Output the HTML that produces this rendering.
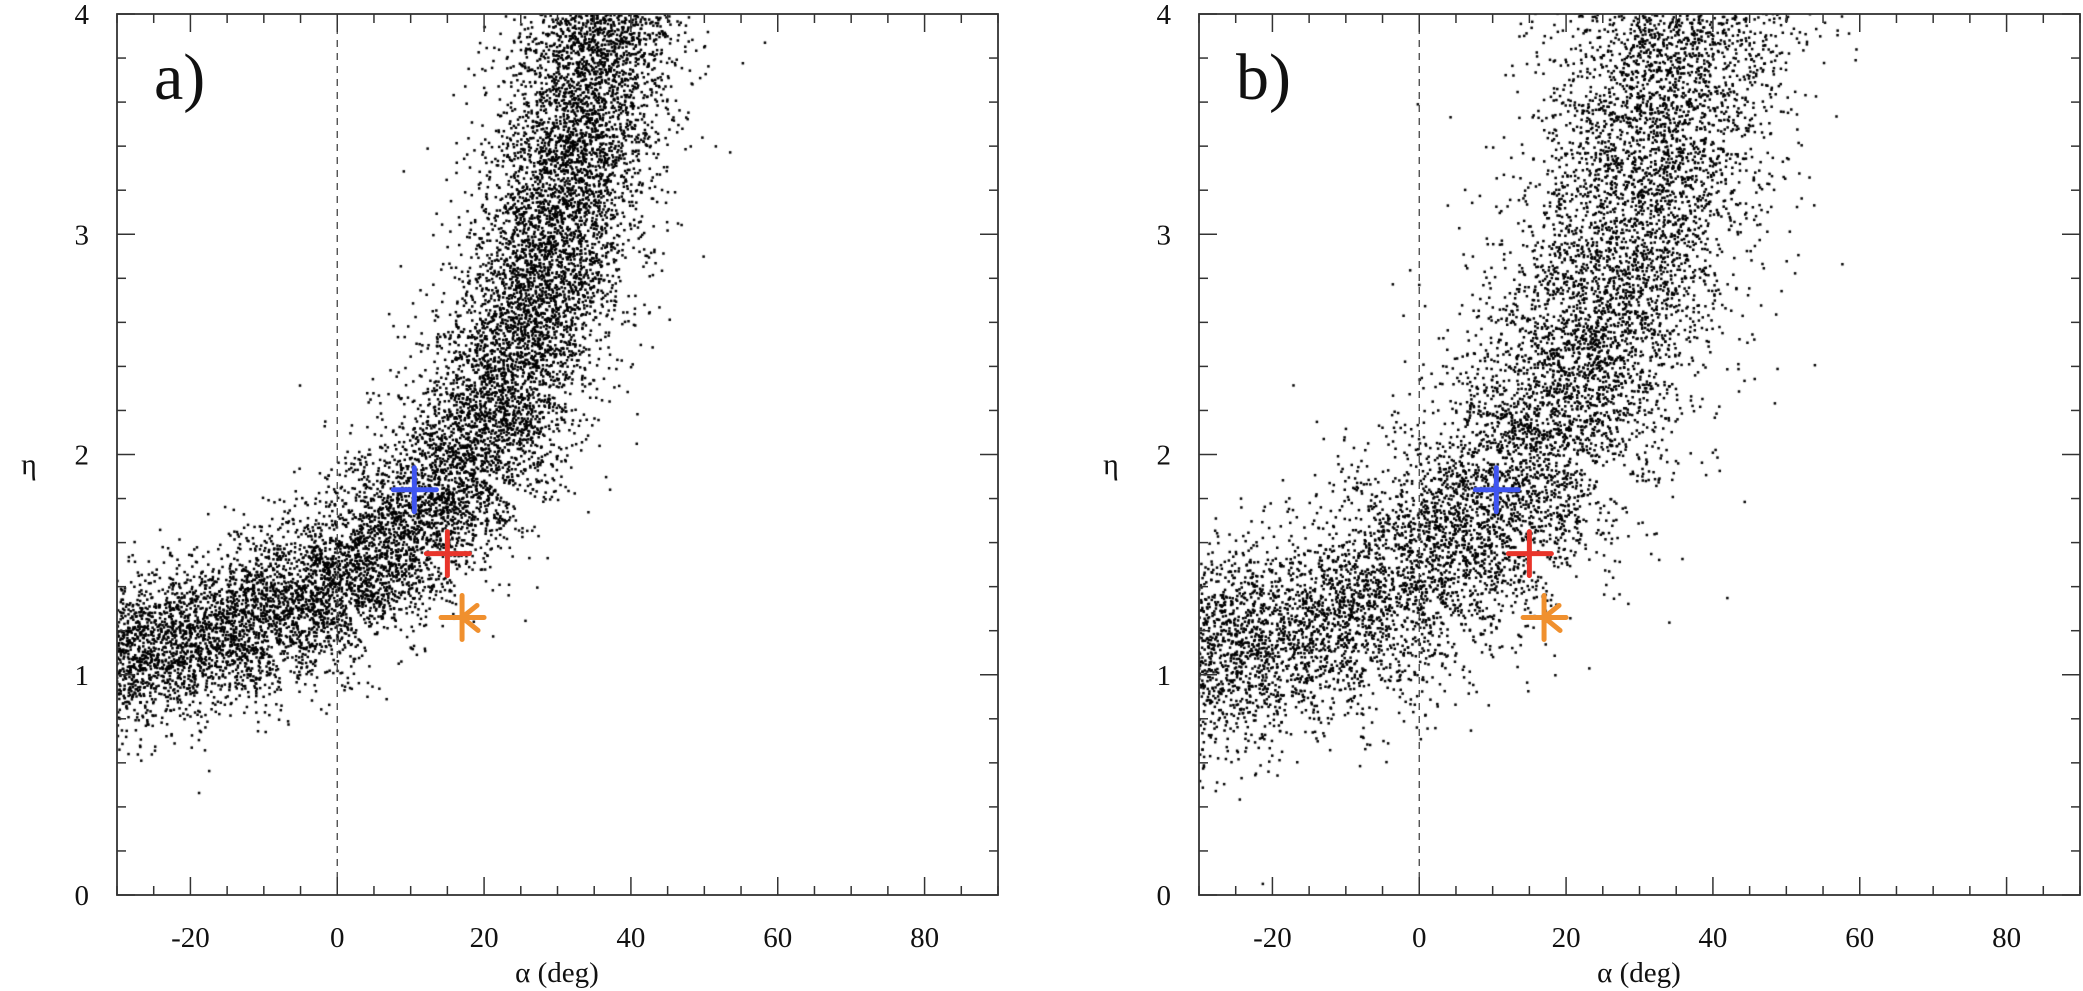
<!DOCTYPE html>
<html><head><meta charset="utf-8"><style>
html,body{margin:0;padding:0;background:#fff;}
#wrap{position:relative;width:2083px;height:991px;overflow:hidden;}
canvas,svg{position:absolute;left:0;top:0;}
text{font-family:"Liberation Serif",serif;fill:#111;}
</style></head><body><div id="wrap">
<canvas id="c" width="2083" height="991"></canvas>
<svg id="s" width="2083" height="991" xmlns="http://www.w3.org/2000/svg"></svg>
</div>
<script>
const W=881,H=881,TOP=14,LEFTS=[117,1199];
const sx=W/120, sy=H/4;
function px(L,a){return L+(a+30)*sx;} function py(e){return TOP+H-e*sy;}
let seed=12345;function rnd(){seed=(seed*1664525+1013904223)>>>0;return seed/4294967296;}
function gauss(){let u=rnd()||1e-9,v=rnd();return Math.sqrt(-2*Math.log(u))*Math.cos(6.2832*v);}
const ctx=document.getElementById('c').getContext('2d');
ctx.fillStyle='#000';
function band(L,curve,N,sig,tail){
  const P=curve.map(p=>[px(L,p[0]),py(p[1])]);
  const seg=[];let tot=0;
  for(let i=0;i<P.length-1;i++){const dx=P[i+1][0]-P[i][0],dy=P[i+1][1]-P[i][1];const l=Math.hypot(dx,dy);seg.push([P[i],dx/l,dy/l,l,tot]);tot+=l;}
  ctx.save();ctx.beginPath();ctx.rect(L,TOP,W,H);ctx.clip();
  for(let k=0;k<N;k++){
    let s=rnd()*tot;let g=seg[0];for(const q of seg){if(s>=q[4])g=q;}
    const d=s-g[4];const x0=g[0][0]+g[1]*d,y0=g[0][1]+g[2]*d;
    let n=gauss()*sig(s/tot);if(rnd()<tail)n*=1.6;
    const x=x0-g[2]*n,y=y0+g[1]*n;
    ctx.fillRect(x-1.2,y-1.2,2.5,2.5);
  }
  ctx.restore();
}
band(LEFTS[0],[[-34,1.05],[-20,1.15],[-10,1.25],[0,1.4],[10,1.66],[18,1.95],[24,2.35],[29,2.9],[33,3.45],[37,4.1],[39,4.5]],13500,t=>38+2*t,0.02);
band(LEFTS[1],[[-34,1.05],[-20,1.15],[-10,1.27],[0,1.45],[10,1.72],[18,2.05],[24,2.5],[29,3.0],[33,3.5],[36,4.1],[38,4.5]],11000,t=>48+14*t,0.02);
const S=document.getElementById('s');let h='';
function ln(x1,y1,x2,y2,st){h+=`<line x1="${x1}" y1="${y1}" x2="${x2}" y2="${y2}" stroke="${st||'#333'}" stroke-width="1.5"/>`;}
function cross(L,a,e,col,star){const x=px(L,a),y=py(e);
  h+=`<g stroke="${col}" stroke-width="5" stroke-linecap="round"><line x1="${x-21}" y1="${y}" x2="${x+22}" y2="${y}"/><line x1="${x}" y1="${y-22}" x2="${x}" y2="${y+22}"/>`;
  if(star)h+=`<line x1="${x}" y1="${y}" x2="${x+15}" y2="${y-12}"/><line x1="${x}" y1="${y}" x2="${x+16}" y2="${y+13}"/>`;
  h+='</g>';}
LEFTS.forEach((L,i)=>{
  const B=TOP+H,R=L+W;
  h+=`<line x1="${px(L,0)}" y1="${TOP}" x2="${px(L,0)}" y2="${B}" stroke="#444" stroke-width="1.3" stroke-dasharray="7,6"/>`;
  for(let a=-30;a<=90;a+=5){const x=px(L,a);const m=(a%20===0)?18:9;ln(x,B,x,B-m);ln(x,TOP,x,TOP+m);
    if(a%20===0&&a>-30&&a<90)h+=`<text x="${x}" y="947" font-size="29" text-anchor="middle">${a}</text>`;}
  for(let k=0;k<=20;k++){const e=k*0.2,y=py(e);const m=(k%5===0)?18:9;ln(L,y,L+m,y);ln(R,y,R-m,y);
    if(k%5===0)h+=`<text x="${L-28}" y="${y+10}" font-size="29" text-anchor="end">${k/5}</text>`;}
  h+=`<rect x="${L}" y="${TOP}" width="${W}" height="${H}" fill="none" stroke="#333" stroke-width="1.8"/>`;
  h+=`<text x="${L+440}" y="982" font-size="29" text-anchor="middle">α (deg)</text>`;
  h+=`<text x="${L-88}" y="474" font-size="30" text-anchor="middle">η</text>`;
  h+=`<text x="${L+37}" y="99" font-size="66">${i?'b)':'a)'}</text>`;
  cross(L,10.5,1.84,'#3f55f0');cross(L,15,1.55,'#e8342a');cross(L,17,1.26,'#f0902e',true);
});
S.innerHTML=h;
</script></body></html>
